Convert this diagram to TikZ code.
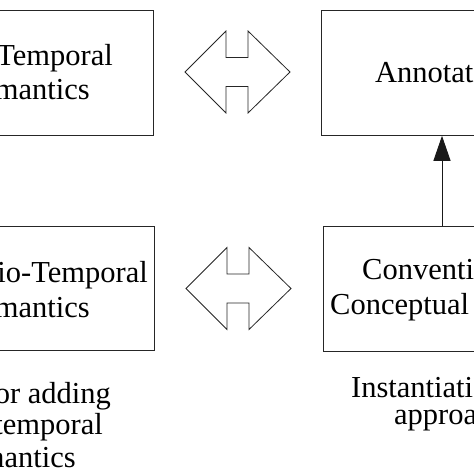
\documentclass[tikz,border=0pt]{standalone}
\usepackage{fontspec}
\setmainfont{Liberation Serif}
\usetikzlibrary{arrows.meta}
\tikzset{
  boxframe/.style={draw=black!85, line width=0.8pt, inner sep=0pt, fill=none},
  lbl/.style={inner sep=0pt, font=\fontsize{30.5}{34}\selectfont, text=black},
  dblarrow/.pic={\draw[black!85, line width=0.8pt, line join=miter]
     (-52,0) -- (-11,-41) -- (-11,-14.5) -- (11,-14.5) -- (11,-41) -- (53,0)
     -- (11,41) -- (11,14.5) -- (-11,14.5) -- (-11,41) -- cycle;},
  uparrow/.style={draw=black!90, line width=0.9pt, -{Triangle[width=17pt,length=25pt]}}
}
\begin{document}
\begin{tikzpicture}[x=1pt,y=-1pt]
\useasboundingbox (0,0) rectangle (474,474);
\clip (0,0) rectangle (474,474);
\fill[white] (0,0) rectangle (474,474);
% boxes
\node[boxframe, minimum width=260pt, minimum height=125pt, anchor=north east] (tl) at (154,10) {};
\node[boxframe, minimum width=260pt, minimum height=125pt, anchor=north west] (tr) at (321,10) {};
\node[boxframe, minimum width=260pt, minimum height=124pt, anchor=north east] (bl) at (155,226) {};
\node[boxframe, minimum width=260pt, minimum height=125pt, anchor=north west] (br) at (323,226) {};
% box texts
\node[lbl, anchor=base east] (tl1) at (113,65) {Temporal};
\node[lbl, anchor=base east] (tl2) at (90,99) {Semantics};
\node[lbl, anchor=base west] (tr1) at (375,82) {Annotation};
\node[lbl, anchor=base east] (bl1) at (148,282) {Spatio-Temporal};
\node[lbl, anchor=base east] (bl2) at (90,317) {Semantics};
\node[lbl, anchor=base west] (br1) at (362,279) {Conventional};
\node[lbl, anchor=base west] (br2) at (330,314) {Conceptual Model};
% captions
\node[lbl, anchor=base east] (cl1) at (111,403) {for adding};
\node[lbl, anchor=base east] (cl2) at (103,434) {spatio-temporal};
\node[lbl, anchor=base east] (cl3) at (76,467) {semantics};
\node[lbl, anchor=base west] (cr1) at (351,397) {Instantiation};
\node[lbl, anchor=base west] (cr2) at (394,424) {approach};
% double arrows
\pic at (237,72) {dblarrow};
\pic at (238,288.5) {dblarrow};
% vertical arrow
\coordinate (vx) at (442,0);
\draw[uparrow] (vx |- br.north) -- (vx |- tr.south);
\end{tikzpicture}
\end{document}
